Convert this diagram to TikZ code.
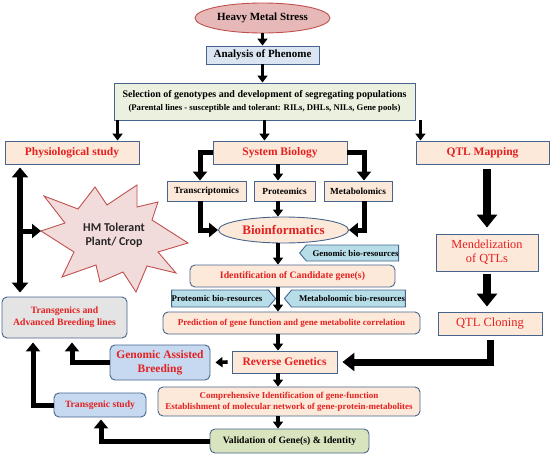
\documentclass[tikz,border=0pt]{standalone}
\usepackage{fontspec}
\setmainfont{Liberation Serif}
\newfontfamily\calib{Carlito}
\usetikzlibrary{arrows.meta,shapes.geometric,shapes.symbols,calc}
\definecolor{bord}{RGB}{70,100,140}
\definecolor{peach}{RGB}{253,233,217}
\definecolor{txtred}{RGB}{228,32,32}
\definecolor{lblue}{RGB}{219,229,241}
\definecolor{mblue}{RGB}{198,217,241}
\definecolor{aqua}{RGB}{183,222,232}
\definecolor{lgreen}{RGB}{235,241,222}
\definecolor{mgreen}{RGB}{215,228,189}
\definecolor{lgray}{RGB}{228,228,228}
\definecolor{hmfill}{RGB}{230,185,184}
\definecolor{hmbord}{RGB}{192,80,77}
\definecolor{starfill}{RGB}{242,220,219}
\begin{document}
\begin{tikzpicture}[x=1pt,y=-1pt,
  every node/.style={inner sep=0pt, align=center},
  bx/.style={draw=bord, line width=0.9pt, font=\bfseries},
  rbx/.style={bx, rounded corners=5pt},
  rtxt/.style={text=txtred},
  wh/.style 2 args={minimum width=#1pt, minimum height=#2pt},
  fs/.style={font=\bfseries\fontsize{#1}{#1}\selectfont},
  bio/.style={draw=bord, line width=0.9pt, fill=aqua, signal, signal from=nowhere, signal pointer angle=100, font=\bfseries\fontsize{8.8}{10}\selectfont},
  sarr/.style={line width=3.6pt, -{Triangle[width=10pt,length=7pt]}},
  marr/.style={line width=5pt, line join=miter, -{Triangle[width=14pt,length=9pt]}},
  barr/.style={line width=8pt, line join=miter, -{Triangle[width=20pt,length=13pt]}},
  dbl/.style={line width=6pt, {Triangle[width=16pt,length=10pt]}-{Triangle[width=16pt,length=10pt]}}
]
\useasboundingbox (0,0) rectangle (552,455);

% ---- nodes ----
\node[ellipse, draw=hmbord, line width=0.9pt, fill=hmfill, wh={135}{30}, fs=11] (hms) at (262.5,18) {Heavy Metal Stress};
\node[bx, fill=lblue, wh={113}{18}, fs=11] (aop) at (262.5,55) {Analysis of Phenome};
\node[bx, fill=lgreen, wh={301}{37}] (sel) at (264.5,101.5)
  {{\fontsize{10}{12}\selectfont Selection of genotypes and development of segregating populations}\\[1pt]
   {\fontsize{8.7}{10}\selectfont (Parental lines - susceptible and tolerant: RILs, DHLs, NILs, Gene pools)}};
\node[bx, fill=peach, rtxt, wh={134}{23}, fs=11.5] (phys) at (72,152.5) {Physiological study};
\node[bx, fill=peach, rtxt, wh={134}{23}, fs=11.5] (sysb) at (280,152.5) {System Biology};
\node[bx, fill=peach, rtxt, wh={133}{23}, fs=11.5] (qtlm) at (482.5,152.5) {QTL Mapping};
\node[bx, fill=peach, wh={79}{20}, fs=9.3] (trans) at (206.5,191) {Transcriptomics};
\node[bx, fill=peach, wh={61}{20}, fs=9.3] (prot) at (284.5,191) {Proteomics};
\node[bx, fill=peach, wh={68}{20}, fs=9.3] (metab) at (358,191) {Metabolomics};
\node[ellipse, draw=bord, line width=0.9pt, fill=peach, rtxt, wh={130}{26}, fs=13] (bioinf) at (283.5,230) {Bioinformatics};
\node[bio, signal to=west, wh={99}{16}] (genbio) at (352.5,253) {\hspace*{6pt}Genomic bio-resources};
\node[rbx, fill=peach, rtxt, wh={205}{22}, fs=9.8] (ident) at (292.5,276) {Identification of Candidate gene(s)};
\node[bio, signal to=east, wh={104}{17}] (protbio) at (220,298.5) {Proteomic bio-resources\hspace*{6pt}};
\node[bio, signal to=west, wh={121}{17}] (metbio) at (348.5,298.5) {\hspace*{7pt}Metaboloomic bio-resources};
\node[rbx, fill=peach, rtxt, wh={257}{22}, fs=9] (pred) at (291.5,323) {Prediction of gene function and gene metabolite correlation};
\node[bx, fill=peach, rtxt, wh={105}{22}, fs=11.5] (rev) at (284.5,362) {Reverse Genetics};
\node[rbx, fill=mblue, rtxt, wh={100}{35}, font=\bfseries\fontsize{11.5}{14}\selectfont] (gab) at (160,362.5) {Genomic Assisted\\Breeding};
\node[rbx, fill=lgray, rtxt, wh={125}{41}, font=\bfseries\fontsize{9.7}{12}\selectfont] (transg) at (64.5,317.5) {Transgenics and\\Advanced Breeding lines};
\node[rbx, fill=mblue, rtxt, wh={92}{24}, fs=9.6] (tstudy) at (100,405) {Transgenic study};
\node[rbx, fill=peach, rtxt, wh={262}{29}, font=\bfseries\fontsize{9}{11}\selectfont] (comp) at (289,401.5) {Comprehensive Identification of gene-function\\Establishment of molecular network of gene-protein-metabolites};
\node[rbx, fill=mgreen, wh={159}{24}, fs=9.7] (valid) at (289.5,441) {Validation of Gene(s) \& Identity};
\node[bx, fill=peach, rtxt, wh={102}{37}, font=\fontsize{12.3}{14}\selectfont] (mend) at (487,252.5) {Mendelization\\of QTLs};
\node[bx, fill=peach, rtxt, wh={104}{23}, font=\fontsize{12.5}{14}\selectfont] (clone) at (490,323.5) {QTL Cloning};

% ---- star ----
\filldraw[fill=starfill, draw=hmbord, line width=0.9pt, line join=miter]
  (41,231) -- (65,223) -- (44,196) -- (78,209) -- (95,187) -- (107,205) -- (137,185) -- (137,207)
  -- (158,202) -- (152,220) -- (188,243) -- (158,252) -- (176,273) -- (147,266) -- (136,292)
  -- (123,272) -- (100,282) -- (96,265) -- (62,277) -- (74,252) -- cycle;
\coordinate (startip) at (41,231);
\node[font=\calib\bfseries\fontsize{12}{14}\selectfont, text=black!85] (hm) at (114,235) {HM Tolerant\\Plant/ Crop};

% ---- helper coordinates ----
\coordinate (col) at (278,0);
\coordinate (lc) at (200,0);
\coordinate (rc) at (364,0);
\coordinate (s1) at ([xshift=4pt]sel.south west);
\coordinate (s3) at ([xshift=5pt]sel.south east);
\coordinate (g1) at (72,0);
\coordinate (t1) at (33,0);
\coordinate (v1) at (101,0);
\coordinate (l1) at (20,0);
\coordinate (qc) at (487,0);
\coordinate (cc) at (490,0);
\coordinate (tgb) at ([yshift=-4pt]transg.south);
\coordinate (tsb) at ([yshift=-2pt]tstudy.south);
\coordinate (ph) at ([yshift=-3pt]phys.south);
\coordinate (tgt) at ([yshift=4pt]transg.north);
\coordinate (q1) at ([yshift=-5pt]qtlm.south);
\coordinate (q2) at ([yshift=6pt]mend.north);
\coordinate (q3) at ([yshift=-3pt]mend.south);
\coordinate (q4) at ([yshift=5pt]clone.north);
\coordinate (c1) at ([yshift=-5pt]clone.south);
\coordinate (rv) at ([xshift=5pt]rev.east);
\coordinate (rw) at ([xshift=-4pt]rev.west);
\coordinate (ge) at ([xshift=5pt]gab.east);

% ---- connectors ----
\draw[sarr] (hms.south) -- (aop.north);
\draw[sarr] (aop.south) -- (aop.south |- sel.north);
\draw[sarr] (s1) -- (s1 |- phys.north);
\draw[sarr] (sel.south) -- (sel.south |- sysb.north);
\draw[sarr] (s3) -- (s3 |- qtlm.north);
\draw[sarr] (sysb.south -| col) -- (prot.north -| col);
\draw[sarr] (prot.south -| col) -- (bioinf.north -| col);
\draw[sarr] (bioinf.south -| col) -- (ident.north -| col);
\draw[sarr] (ident.south -| col) -- (pred.north -| col);
\draw[sarr] (pred.south -| col) -- (rev.north -| col);
\draw[sarr] (rev.south -| col) -- (comp.north -| col);
\draw[sarr] (comp.south -| col) -- (valid.north -| col);
\draw[marr] (sysb.west) -- (sysb.west -| lc) -- (trans.north -| lc);
\draw[marr] (sysb.east) -- (sysb.east -| rc) -- (metab.north -| rc);
\draw[marr] (trans.south -| lc) -- (lc |- bioinf.west) -- (bioinf.west);
\draw[marr] (metab.south -| rc) -- (rc |- bioinf.east) -- (bioinf.east);
\draw[sarr] (rw) -- (ge);
\draw[marr] (gab.west) -- (gab.west -| g1) -- (g1 |- tgb);
\draw[marr] (tstudy.west) -- (tstudy.west -| t1) -- (t1 |- tgb);
\draw[marr] (valid.west) -- (valid.west -| v1) -- (v1 |- tsb);
\draw[dbl] (ph -| l1) -- (tgt -| l1);
\draw[marr] (l1 |- startip) -- (startip);
\draw[barr] (q1 -| qc) -- (q2 -| qc);
\draw[barr] (q3 -| qc) -- (q4 -| qc);
\draw[line width=7pt, line join=miter, -{Triangle[width=18pt,length=12pt]}] (c1 -| cc) -- (cc |- rv) -- (rv);
\end{tikzpicture}
\end{document}
